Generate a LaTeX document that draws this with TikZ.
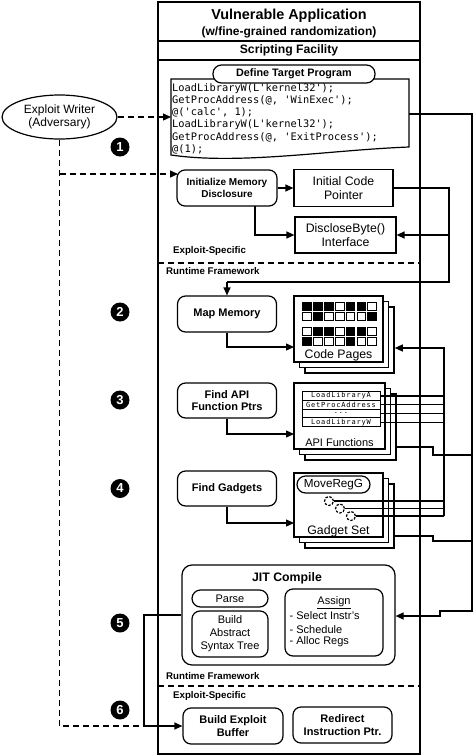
\documentclass[tikz,border=0pt]{standalone}
\usepackage{fontspec}
\setmainfont{Liberation Sans}
\newfontfamily\codefont[Ligatures=TeXOff]{DejaVu Sans Mono}
\newfontfamily\tblfont[Ligatures=TeXOff,LetterSpace=12]{DejaVu Sans Mono}
\usetikzlibrary{arrows.meta,shapes.geometric}
\newcommand\fsz[2]{\fontsize{#1}{#2}\selectfont}
\begin{document}
\begin{tikzpicture}[x=1pt,y=-1pt,
 every node/.style={inner sep=0pt},
 ln/.style={line width=1.2pt},
 box/.style={draw, line width=1.2pt, fill=white, align=center, font=\fsz{12.3}{13.6}},
 rbox/.style={box, rounded corners=8pt, font=\bfseries\fsz{11}{12.5}},
 pill/.style={box, rounded corners=8.5pt},
 tip/.style={-{Triangle[length=8pt,width=7pt]}},
 arr/.style={ln, tip},
 dsh/.style={ln, dash pattern=on 6pt off 4pt},
 bul/.style={circle, fill=black, minimum size=19pt, text=white, font=\bfseries\fsz{13}{13}},
 sect/.style={anchor=west, font=\bfseries\fsz{9.7}{11}},
 cell/.style={draw, line width=0.8pt, minimum width=8.8pt, minimum height=8.4pt},
 code/.style={anchor=west, font=\codefont\fsz{10.35}{12}},
 trow/.style={draw, line width=0.9pt, fill=white, minimum width=78pt, minimum height=8.7pt, font=\tblfont\fsz{7}{7}},
 stackbox/.style={draw, line width=1.2pt, fill=white},
]
\useasboundingbox (0,0) rectangle (474,756);

% outer application box
\draw[line width=2pt] (158,1.5) rectangle (420,754);
\draw[ln] (158,41) -- (420,41);
\draw[ln] (158,60) -- (420,60);
\node[font=\bfseries\fsz{14.4}{15}] (t1) at (289,16) {Vulnerable Application};
\node[font=\bfseries\fsz{12}{13}] (t2) at (289,32.5) {(w/fine-grained randomization)};
\node[font=\bfseries\fsz{12.2}{13}] (t3) at (289,50.5) {Scripting Facility};

% code block
\draw[ln, fill=white] (171,79) -- (409,79) -- (409,147) .. controls (330,150) and (240,165) .. (171,155) -- cycle;
\coordinate (codeL) at (171,117);
\coordinate (codeR) at (409,114);
\node[code] (c1) at (172,88.3) {LoadLibraryW(L'kernel32');};
\node[code] (c2) at (172,100.6) {GetProcAddress(@, 'WinExec');};
\node[code] (c3) at (172,112.8) {@('calc', 1);};
\node[code] (c4) at (172,125) {LoadLibraryW(L'kernel32');};
\node[code] (c5) at (172,137.3) {GetProcAddress(@, 'ExitProcess');};
\node[code] (c6) at (172,149.4) {@(1);};
\node[pill, font=\bfseries\fsz{10.8}{12}, minimum width=162pt, minimum height=18pt] (dtp) at (294,74) {Define Target Program};

% exploit writer
\node[ellipse, draw, line width=1.2pt, minimum width=115pt, minimum height=44pt, align=center, font=\fsz{12}{13.5}] (ew) at (59.5,117) {Exploit Writer\\(Adversary)};
\coordinate (ewd) at (59.5,726);
\coordinate (imdIn) at (178,174);
\coordinate (jn) at (144,726);

% bullets
\node[bul] (b1) at (120,147) {1};
\node[bul] (b2) at (120,312) {2};
\node[bul] (b3) at (120,400) {3};
\node[bul] (b4) at (120,488.5) {4};
\node[bul] (b5) at (120,623) {5};
\node[bul] (b6) at (120,710) {6};

% step 1 boxes
\node[rbox, font=\bfseries\fsz{10}{11.7}, minimum width=100pt, minimum height=36pt] (imd) at (227,188) {Initialize Memory\\Disclosure};
\node[box, minimum width=99pt, minimum height=37pt] (icp) at (343.5,188) {Initial Code\\Pointer};
\node[box, minimum width=101pt, minimum height=36pt] (dbi) at (345.5,235) {DiscloseByte()\\Interface};

\node[sect] (es1) at (173,251) {Exploit-Specific};
\draw[dsh] (158,263) -- (420,263);
\node[sect] (rf1) at (166,271.5) {Runtime Framework};

% step 2
\node[rbox, minimum width=99pt, minimum height=36pt] (mm) at (227,314) {Map Memory};
\node[stackbox, minimum width=89pt, minimum height=66pt] (cp3) at (349.5,340) {};
\node[stackbox, minimum width=89pt, minimum height=66pt] (cp2) at (344,334.5) {};
\node[stackbox, minimum width=89pt, minimum height=66pt] (cp) at (338.5,329) {};
\foreach \v [count=\i from 0] in {black,black,black,white,black,black,white}
  \node[cell, fill=\v] (ga\i) at (306.8+10.9*\i,306.6) {};
\foreach \v [count=\i from 0] in {white,black,white,white,white,white,black}
  \node[cell, fill=\v] (gb\i) at (306.8+10.9*\i,316.6) {};
\foreach \v [count=\i from 0] in {white,black,black,white,black,black,white}
  \node[cell, fill=\v] (gc\i) at (306.8+10.9*\i,331.5) {};
\foreach \v [count=\i from 0] in {black,white,white,white,black,white,white}
  \node[cell, fill=\v] (gd\i) at (306.8+10.9*\i,341.5) {};
\node[font=\fsz{12.3}{13}] (cpT) at (338.5,355.5) {Code Pages};

% step 3
\node[rbox, minimum width=99pt, minimum height=35pt] (fa) at (227,400.5) {Find API\\Function Ptrs};
\node[stackbox, minimum width=91pt, minimum height=66pt] (ap3) at (350.5,427) {};
\node[stackbox, minimum width=91pt, minimum height=66pt] (ap2) at (345,421.5) {};
\node[stackbox, minimum width=91pt, minimum height=66pt] (ap) at (339.5,416) {};
\node[trow] (r1) at (341,396) {LoadLibraryA};
\node[trow] (r2) at (341,404.7) {GetProcAddress};
\node[trow] (r3) at (341,413.4) {...};
\node[trow] (r4) at (341,422.1) {LoadLibraryW};
\node[font=\fsz{11}{12}] (apT) at (339.5,442.5) {API Functions};

% step 4
\node[rbox, minimum width=99pt, minimum height=35pt] (fg) at (227,488.5) {Find Gadgets};
\node[stackbox, minimum width=89pt, minimum height=64pt] (gs3) at (349.5,516) {};
\node[stackbox, minimum width=89pt, minimum height=64pt] (gs2) at (344,510.5) {};
\node[stackbox, minimum width=89pt, minimum height=64pt] (gs) at (338.5,505) {};
\node[pill, font=\fsz{11.7}{12}, minimum width=73pt, minimum height=17pt] (mrg) at (333.5,484.5) {MoveRegG};
\node[circle, draw, line width=1.2pt, dash pattern=on 2.5pt off 1.5pt, minimum size=9pt] (o1) at (329,501) {};
\node[circle, draw, line width=1.2pt, dash pattern=on 2.5pt off 1.5pt, minimum size=9pt] (o2) at (340,508.5) {};
\node[circle, draw, line width=1.2pt, dash pattern=on 2.5pt off 1.5pt, minimum size=9pt] (o3) at (351,516) {};
\node[font=\fsz{12.3}{13}] (gsT) at (338.5,531.5) {Gadget Set};

% step 5: JIT
\node[rbox, rounded corners=10pt, minimum width=213pt, minimum height=100pt] (jit) at (288.5,615) {};
\node[font=\bfseries\fsz{12.3}{13}] (jitT) at (287,578.5) {JIT Compile};
\node[pill, font=\fsz{11}{12}, minimum width=76pt, minimum height=17pt] (parse) at (230,598.5) {Parse};
\node[box, rounded corners=8pt, font=\fsz{11}{13}, minimum width=76pt, minimum height=46pt] (ast) at (230,634) {Build\\Abstract\\Syntax Tree};
\node[box, rounded corners=8pt, minimum width=98pt, minimum height=67pt] (asg) at (334,622.5) {};
\node[font=\fsz{11}{12}] (asgT) at (334,602.5) {\underline{Assign}};
\node[anchor=west, font=\fsz{11}{12}] (a1) at (289.5,616) {- Select Instr's};
\node[anchor=west, font=\fsz{11}{12}] (a2) at (289.5,629.3) {- Schedule};
\node[anchor=west, font=\fsz{11}{12}] (a3) at (289.5,642) {- Alloc Regs};

\node[sect] (rf2) at (166,676) {Runtime Framework};
\draw[dsh] (158,686) -- (420,686);
\node[sect] (es2) at (173,696) {Exploit-Specific};

% step 6
\node[rbox, minimum width=100pt, minimum height=36pt] (beb) at (233,726) {Build Exploit\\Buffer};
\node[rbox, minimum width=99pt, minimum height=36pt] (rip) at (342.5,725) {Redirect\\Instruction Ptr.};

% connectors: adversary
\draw[dsh, tip] (ew.east) -- (codeL);
\draw[dsh] (ew.south) -- (ewd) -- (jn);
\draw[dsh, tip] (59.5,174) -- (imdIn);

% connectors: step 1
\draw[arr] (imd.east) -- (icp.west);
\draw[arr] (255,206) -- (255,235) -- (dbi.west);
\draw[ln] (icp.east) -- (449,188) -- (449,282) -- (227,282);
\draw[arr] (227,282) -- (mm.north);
\draw[arr] (449,235) -- (dbi.east);

% connectors: steps 2-4
\draw[arr] (mm.south) -- (227,347) -- (294,347);
\draw[arr] (fa.south) -- (227,434) -- (294,434);
\draw[arr] (fg.south) -- (227,523) -- (294,523);
\draw[ln] (r1.east) -- (444,396);
\draw[ln] (r2.east) -- (444,404.7);
\draw[ln] (r3.east) -- (444,413.4);
\draw[ln] (r4.east) -- (444,422.1);
\draw[ln] (o1.east) -- (444,501);
\draw[ln] (o2.east) -- (444,508.5);
\draw[ln] (o3.east) -- (444,516);
\draw[arr] (444,516) -- (444,348) -- (394.8,348);
\draw[ln] (396,447) -- (433,447) -- (433,455) -- (472,455);
\draw[ln] (394,536) -- (433,536) -- (433,541) -- (472,541);
\draw[arr] (codeR) -- (472,114) -- (472,611) -- (440,611) -- (440,616) -- (jit.east |- 440,616);

% connectors: step 5-6
\draw[arr] (jit.west) -- (144,615) -- (jn) -- (beb.west);
\end{tikzpicture}
\end{document}
